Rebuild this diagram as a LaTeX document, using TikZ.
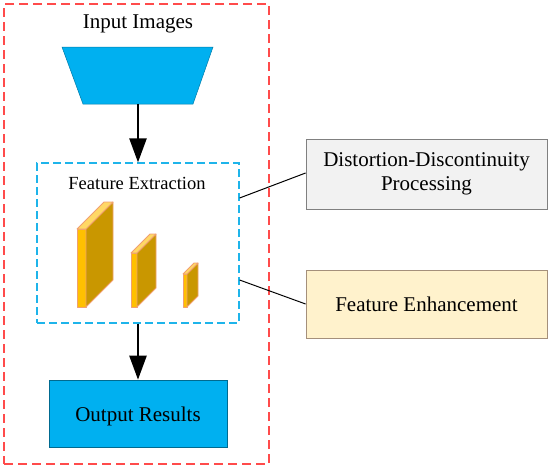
\documentclass[tikz,border=0pt]{standalone}
\usepackage{fontspec}
\setmainfont{Liberation Serif}
\usetikzlibrary{arrows.meta}
\definecolor{cyanfill}{HTML}{00B0F0}
\definecolor{reddash}{HTML}{FF4B4B}
\definecolor{bluedash}{HTML}{1EB4EA}
\definecolor{fmfront}{HTML}{FFC000}
\definecolor{fmside}{HTML}{C99700}
\definecolor{fmtop}{HTML}{FFD865}
\definecolor{fmedge}{HTML}{F0A070}
\definecolor{ddfill}{HTML}{F2F2F2}
\definecolor{fefill}{HTML}{FFF2CC}
\newcommand{\fmap}[5]{%
  \filldraw[fmface,fill=fmfront] (#1,#2) rectangle (#1+#4,#3);
  \filldraw[fmface,fill=fmside] (#1+#4,#2) -- (#1+#4+#5,#2-#5) -- (#1+#4+#5,#3-#5) -- (#1+#4,#3) -- cycle;
  \filldraw[fmface,fill=fmtop] (#1,#2) -- (#1+#5,#2-#5) -- (#1+#4+#5,#2-#5) -- (#1+#4,#2) -- cycle;
}
\begin{document}
\begin{tikzpicture}[x=1pt,y=-1pt,
  fmface/.style={draw=fmedge,line width=0.8pt,line join=round},
  bigarrow/.style={line width=2.4pt,-{Triangle[width=17pt,length=24pt]}},
  link/.style={line width=1pt},
  txt/.style={font=\fontsize{21}{25}\selectfont},
  ]
\useasboundingbox (0,0) rectangle (550,469);
% outer red dashed frame
\node[draw=reddash,dash pattern=on 9pt off 5pt,line width=1.4pt,minimum width=265pt,minimum height=460pt,inner sep=0pt] (outer) at (136.5,234) {};
\node[txt] (intitle) at (138,24) {Input Images};
% input trapezoid
\filldraw[fill=cyanfill,draw=cyanfill!70!black,line width=0.5pt] (62,47) -- (213,47) -- (193,104) -- (83,104) -- cycle;
\coordinate (inp) at (138,104);
% feature extraction blue dashed box
\node[draw=bluedash,dash pattern=on 8pt off 4pt,line width=1.2pt,minimum width=202pt,minimum height=160pt,inner sep=0pt] (fe) at (138,243) {};
\node[font=\fontsize{18.5}{22}\selectfont] (fetitle) at (137,183.5) {Feature Extraction};
\fmap{77}{229}{307}{9}{27}
\fmap{131}{253}{307}{6}{19}
\fmap{183}{274}{307}{4}{11}
% output
\node[txt,fill=cyanfill,draw=cyanfill!60!black,line width=0.6pt,minimum width=178pt,minimum height=67pt,inner sep=0pt,text height=15pt,text depth=0pt] (out) at (138,413.5) {Output Results};
% right boxes
\node[txt,align=center,fill=ddfill,draw=black!50,line width=0.8pt,minimum width=241pt,minimum height=70pt,inner sep=0pt] (dd) at (426.5,174) {Distortion-Discontinuity\\[-1pt]Processing};
\node[txt,fill=fefill,draw=black!45!brown!60,line width=0.8pt,minimum width=241pt,minimum height=68pt,inner sep=0pt] (enh) at (426.5,304) {Feature Enhancement};
% arrows
\draw[bigarrow] (inp) -- (fe.north);
\draw[bigarrow] (fe.south) -- (out.north);
% links
\draw[link] (fe.east |- 0,198) -- (dd.west |- 0,173);
\draw[link] (fe.east |- 0,280) -- (enh.west |- 0,304);
\end{tikzpicture}
\end{document}
